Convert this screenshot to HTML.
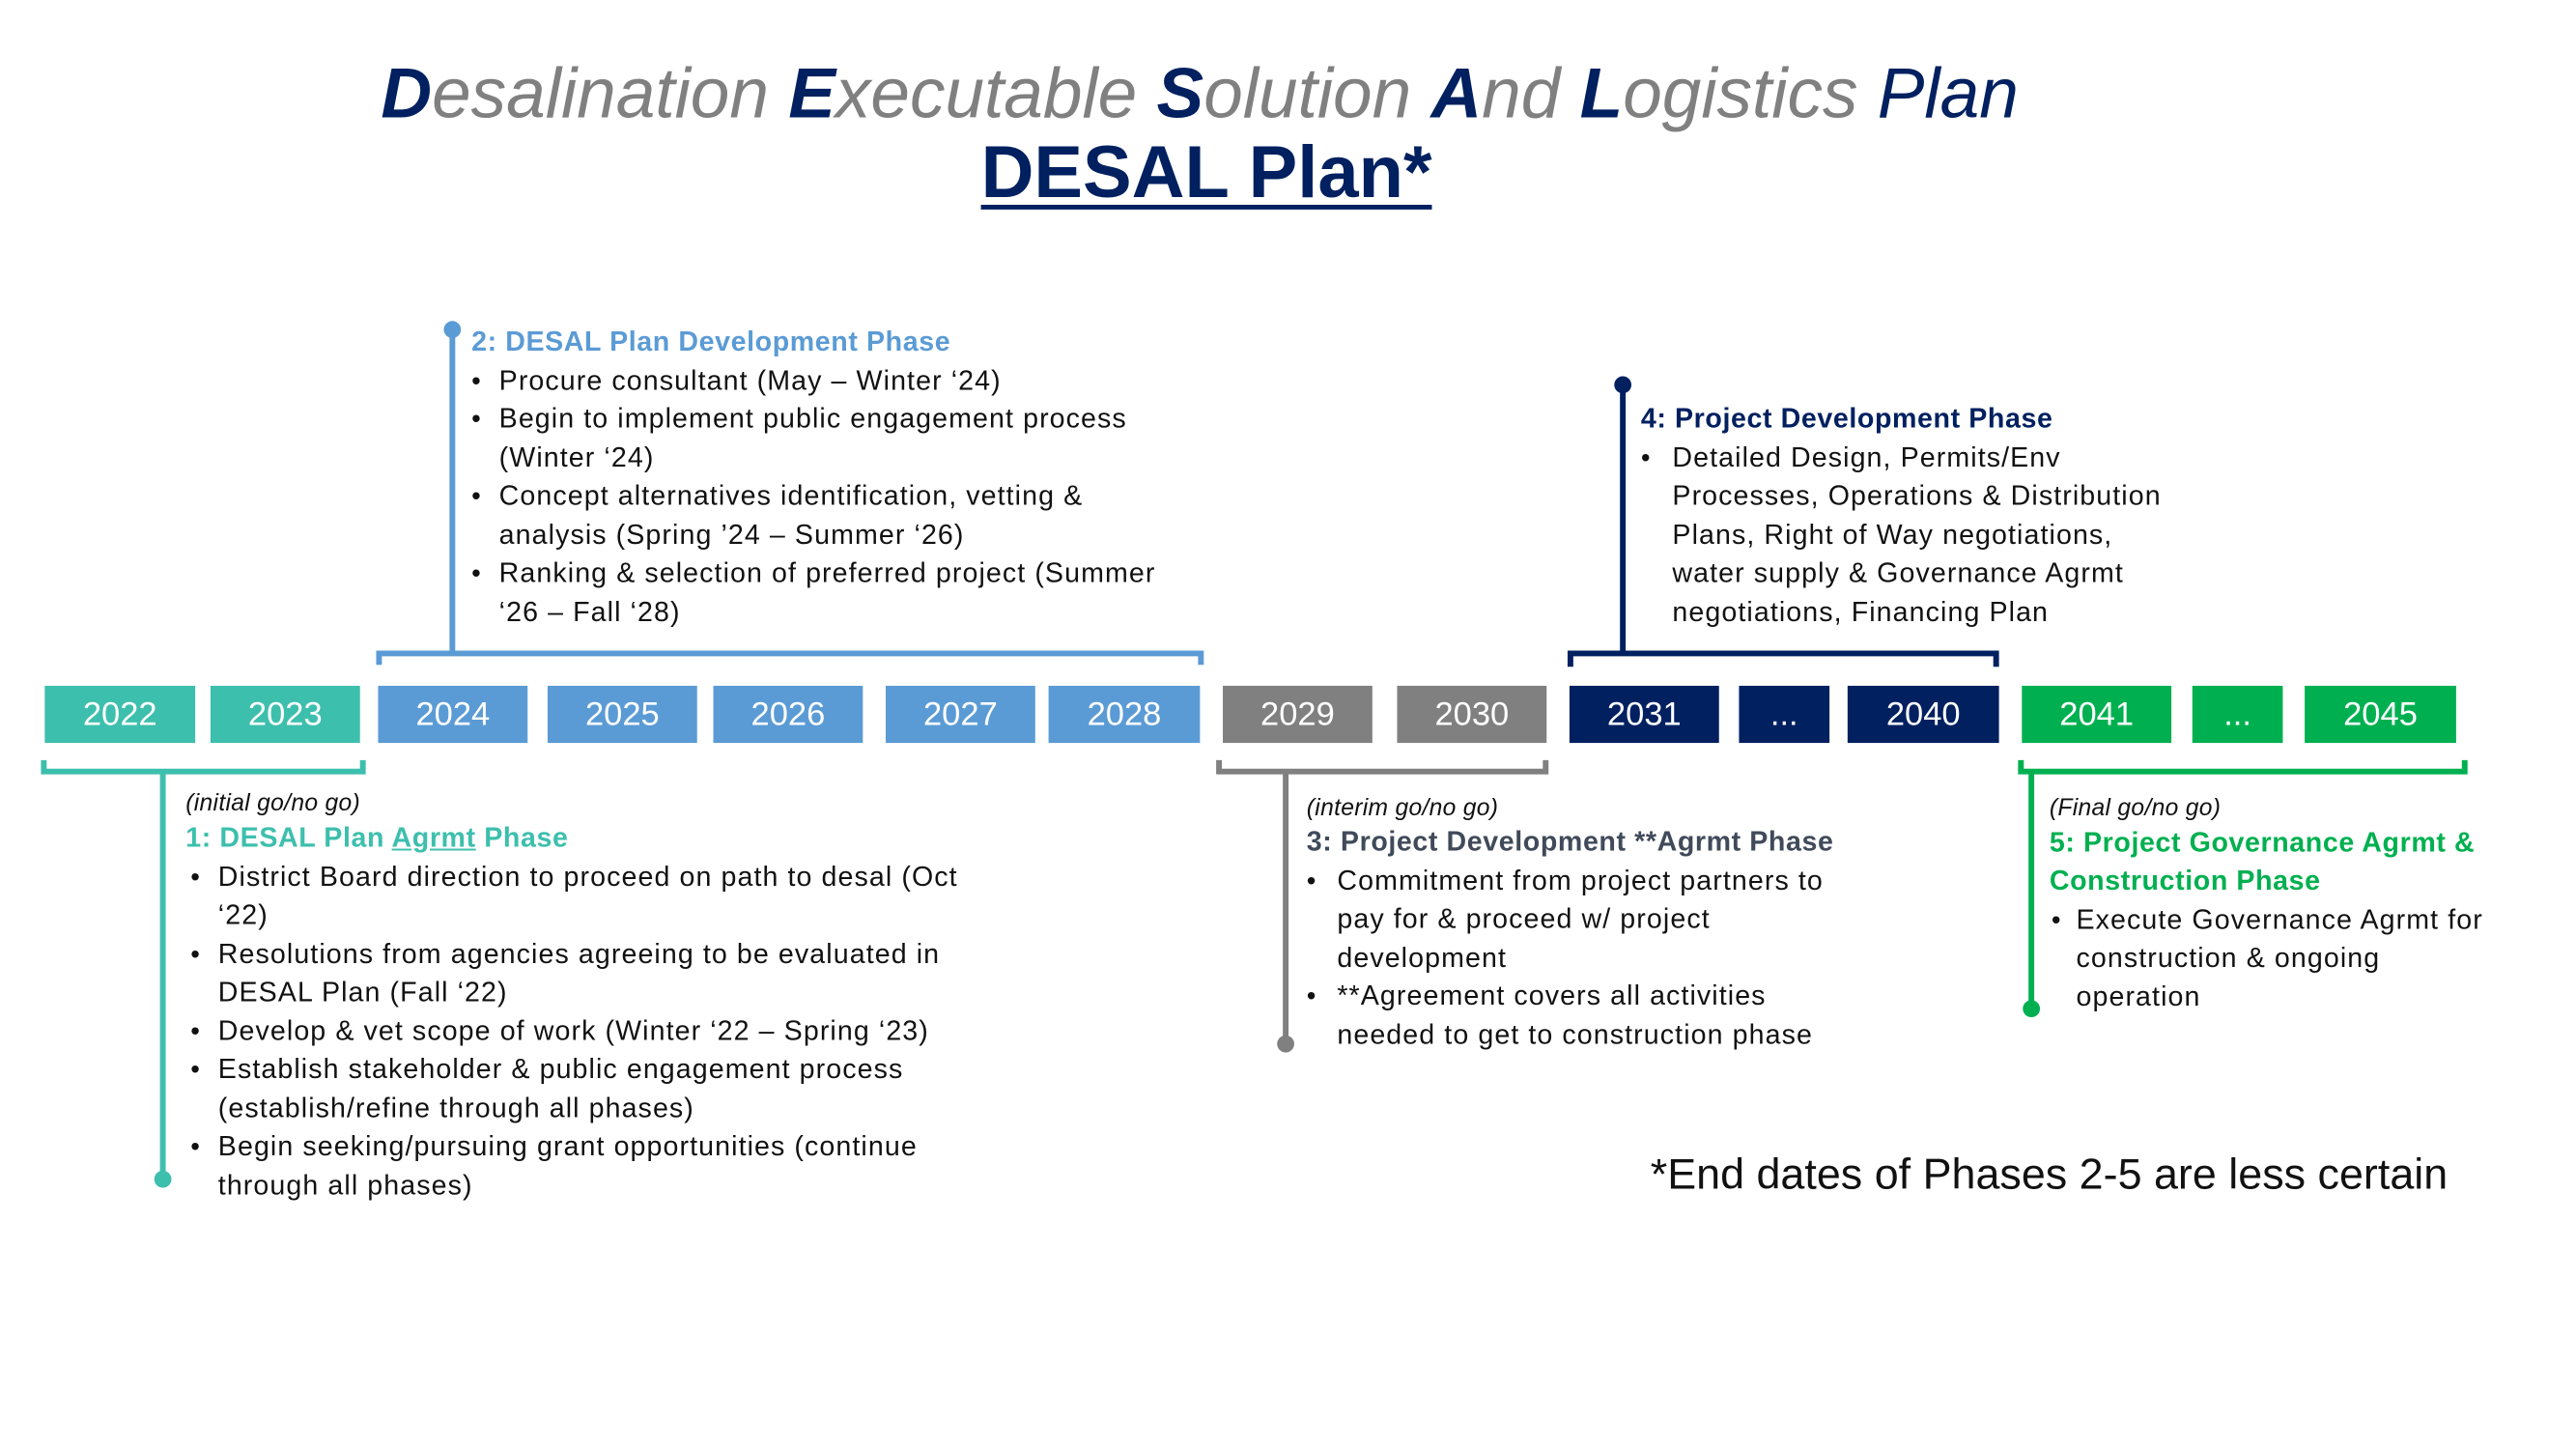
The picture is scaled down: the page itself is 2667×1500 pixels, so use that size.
<!DOCTYPE html>
<html><head><meta charset="utf-8"><style>
body{margin:0;width:2667px;height:1500px;background:#fff;position:relative;overflow:hidden;font-family:"Liberation Sans",sans-serif}
#w{position:absolute;left:0;top:0;width:2705px;height:1521px;transform:scale(0.986);transform-origin:0 0}
.a{position:absolute}
.t{position:absolute;white-space:nowrap;font-size:29px;line-height:40px;color:#111;letter-spacing:1.1px}
.b{position:absolute;white-space:nowrap;font-size:28px;line-height:40px;color:#111}
.y{position:absolute;top:720px;height:60px;line-height:60px;color:#fff;font-size:35px;text-align:center}
.h{font-weight:bold;letter-spacing:0.6px}
.i{font-style:italic;font-size:25px;letter-spacing:0.3px}
.dot{position:absolute;width:18px;height:18px;border-radius:50%}
</style></head><body><div id="w">
<div class="a" style="left:400px;top:55px;font-size:74px;font-style:italic;color:#808080;white-space:nowrap"><b style="color:#002060">D</b>esalination <b style="color:#002060">E</b>xecutable <b style="color:#002060">S</b>olution <b style="color:#002060">A</b>nd <b style="color:#002060">L</b>ogistics <span style="color:#002060">Plan</span></div>
<div class="a" style="left:1030px;top:137px;font-size:77px;font-weight:bold;color:#002060;text-decoration:underline;text-decoration-thickness:5px;text-underline-offset:8px;white-space:nowrap">DESAL Plan*</div>

<div class="y" style="left:47px;width:158px;background:#3dbfad">2022</div>
<div class="y" style="left:221px;width:157px;background:#3dbfad">2023</div>
<div class="y" style="left:397px;width:157px;background:#5b9bd5">2024</div>
<div class="y" style="left:575px;width:157px;background:#5b9bd5">2025</div>
<div class="y" style="left:749px;width:157px;background:#5b9bd5">2026</div>
<div class="y" style="left:930px;width:157px;background:#5b9bd5">2027</div>
<div class="y" style="left:1101px;width:159px;background:#5b9bd5">2028</div>
<div class="y" style="left:1284px;width:157px;background:#808080">2029</div>
<div class="y" style="left:1467px;width:157px;background:#808080">2030</div>
<div class="y" style="left:1648px;width:157px;background:#002060">2031</div>
<div class="y" style="left:1826px;width:95px;background:#002060">...</div>
<div class="y" style="left:1940px;width:159px;background:#002060">2040</div>
<div class="y" style="left:2123px;width:157px;background:#00b050">2041</div>
<div class="y" style="left:2302px;width:95px;background:#00b050">...</div>
<div class="y" style="left:2420px;width:159px;background:#00b050">2045</div>

<svg class="a" style="left:0;top:0" width="2705" height="1521" fill="none" stroke-width="6">
<path d="M398 698 V686 H1261 V698 M475 686 V345" stroke="#5b9bd5"/>
<path d="M1649 700 V686 H2096 V700 M1704 686 V404" stroke="#002060"/>
<path d="M46 798 V810 H381 V798 M171 810 V1238" stroke="#3dbfad"/>
<path d="M1280 798 V810 H1623 V798 M1350 810 V1095" stroke="#808080"/>
<path d="M2122 798 V810 H2588 V798 M2133 810 V1058" stroke="#00b050"/>
</svg>
<div class="dot" style="left:466px;top:337px;background:#5b9bd5"></div>
<div class="dot" style="left:1695px;top:395px;background:#002060"></div>
<div class="dot" style="left:162px;top:1229px;background:#3dbfad"></div>
<div class="dot" style="left:1341px;top:1087px;background:#808080"></div>
<div class="dot" style="left:2124px;top:1050px;background:#00b050"></div>

<div class="t h" style="left:495px;top:339px;color:#5b9bd5">2: DESAL Plan Development Phase</div>
<div class="b" style="left:495px;top:380px">•</div><div class="t" style="left:524px;top:380px">Procure consultant (May – Winter ‘24)</div>
<div class="b" style="left:495px;top:420px">•</div><div class="t" style="left:524px;top:420px">Begin to implement public engagement process</div>
<div class="t" style="left:524px;top:461px">(Winter ‘24)</div>
<div class="b" style="left:495px;top:501px">•</div><div class="t" style="left:524px;top:501px">Concept alternatives identification, vetting &amp;</div>
<div class="t" style="left:524px;top:542px">analysis (Spring ’24 – Summer ‘26)</div>
<div class="b" style="left:495px;top:582px">•</div><div class="t" style="left:524px;top:582px">Ranking &amp; selection of preferred project (Summer</div>
<div class="t" style="left:524px;top:623px">‘26 – Fall ‘28)</div>

<div class="t h" style="left:1723px;top:420px;color:#002060">4: Project Development Phase</div>
<div class="b" style="left:1723px;top:461px">•</div><div class="t" style="left:1756px;top:461px">Detailed Design, Permits/Env</div>
<div class="t" style="left:1756px;top:501px">Processes, Operations &amp; Distribution</div>
<div class="t" style="left:1756px;top:542px">Plans, Right of Way negotiations,</div>
<div class="t" style="left:1756px;top:582px">water supply &amp; Governance Agrmt</div>
<div class="t" style="left:1756px;top:623px">negotiations, Financing Plan</div>

<div class="t i" style="left:195px;top:823px">(initial go/no go)</div>
<div class="t h" style="left:195px;top:860px;color:#3dbfad">1: DESAL Plan <u>Agrmt</u> Phase</div>
<div class="b" style="left:200px;top:901px">•</div><div class="t" style="left:229px;top:901px">District Board direction to proceed on path to desal (Oct</div>
<div class="t" style="left:229px;top:941px">‘22)</div>
<div class="b" style="left:200px;top:982px">•</div><div class="t" style="left:229px;top:982px">Resolutions from agencies agreeing to be evaluated in</div>
<div class="t" style="left:229px;top:1022px">DESAL Plan (Fall ‘22)</div>
<div class="b" style="left:200px;top:1063px">•</div><div class="t" style="left:229px;top:1063px">Develop &amp; vet scope of work (Winter ‘22 – Spring ‘23)</div>
<div class="b" style="left:200px;top:1103px">•</div><div class="t" style="left:229px;top:1103px">Establish stakeholder &amp; public engagement process</div>
<div class="t" style="left:229px;top:1144px">(establish/refine through all phases)</div>
<div class="b" style="left:200px;top:1184px">•</div><div class="t" style="left:229px;top:1184px">Begin seeking/pursuing grant opportunities (continue</div>
<div class="t" style="left:229px;top:1225px">through all phases)</div>

<div class="t i" style="left:1372px;top:828px">(interim go/no go)</div>
<div class="t h" style="left:1372px;top:864px;color:#404a5a">3: Project Development **Agrmt Phase</div>
<div class="b" style="left:1372px;top:905px">•</div><div class="t" style="left:1404px;top:905px">Commitment from project partners to</div>
<div class="t" style="left:1404px;top:945px">pay for &amp; proceed w/ project</div>
<div class="t" style="left:1404px;top:986px">development</div>
<div class="b" style="left:1372px;top:1026px">•</div><div class="t" style="left:1404px;top:1026px">**Agreement covers all activities</div>
<div class="t" style="left:1404px;top:1067px">needed to get to construction phase</div>

<div class="t i" style="left:2152px;top:828px">(Final go/no go)</div>
<div class="t h" style="left:2152px;top:865px;color:#00b050">5: Project Governance Agrmt &amp;</div>
<div class="t h" style="left:2152px;top:905px;color:#00b050">Construction Phase</div>
<div class="b" style="left:2154px;top:946px">•</div><div class="t" style="left:2180px;top:946px">Execute Governance Agrmt for</div>
<div class="t" style="left:2180px;top:986px">construction &amp; ongoing</div>
<div class="t" style="left:2180px;top:1027px">operation</div>

<div class="a" style="left:1733px;top:1207px;font-size:45.5px;white-space:nowrap;color:#111">*End dates of Phases 2-5 are less certain</div>
</div></body></html>
